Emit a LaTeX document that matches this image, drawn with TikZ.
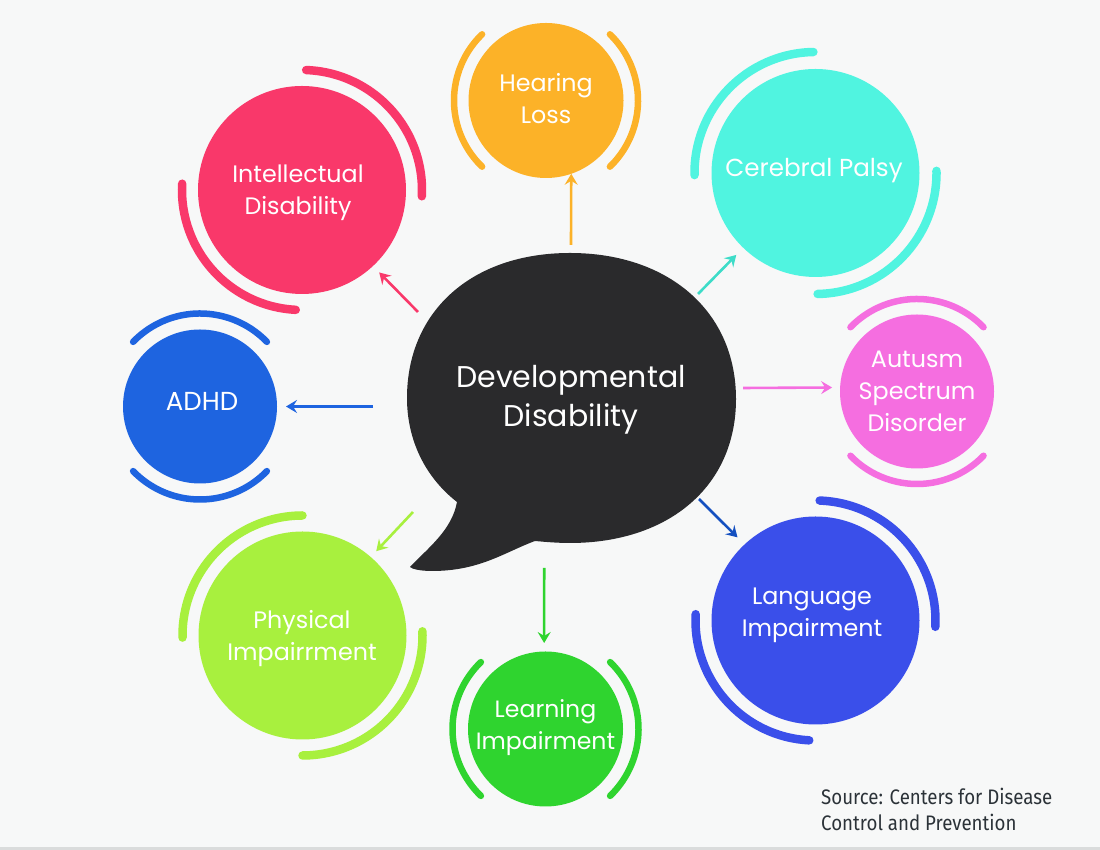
\documentclass[tikz,border=0pt]{standalone}
\usepackage{fontspec}
\usetikzlibrary{arrows.meta}
\newfontfamily\quick{Poppins}
\newfontfamily\srcfont{Fira Sans}[FakeStretch=0.89]
\definecolor{bgc}{HTML}{F7F8F8}
\definecolor{strip}{HTML}{DADCDC}
\definecolor{blobc}{HTML}{2A2A2C}
\definecolor{intelc}{HTML}{F9386A}
\definecolor{hearc}{HTML}{FCB228}
\definecolor{cerc}{HTML}{50F4E0}
\definecolor{cerarrow}{HTML}{3DDCC8}
\definecolor{autc}{HTML}{F56EE0}
\definecolor{langc}{HTML}{3A4FEA}
\definecolor{langarrow}{HTML}{1450C0}
\definecolor{learnc}{HTML}{2FD42F}
\definecolor{physc}{HTML}{A8F03E}
\definecolor{adhdc}{HTML}{1E64E0}
\definecolor{srcc}{HTML}{2B3238}
\tikzset{
  bub/.style={circle,inner sep=0pt,outer sep=0pt},
  bigbub/.style={bub,minimum size=208pt},
  smallbub/.style={bub,minimum size=155pt},
  bigring/.style={line width=8.5pt,line cap=round},
  smallring/.style={line width=6.5pt,line cap=round},
  link/.style={line width=2.6pt,-{Stealth[length=11pt,width=13pt,inset=4pt]}},
  lab/.style={text=white,align=center,anchor=base,inner sep=0pt,font=\quick\fontsize{23.8}{32}\selectfont},
  devlab/.style={text=white,align=center,anchor=base,inner sep=0pt,font=\quick\fontsize{30}{39}\selectfont},
  srclab/.style={text=srcc,align=left,anchor=base west,inner sep=0pt,font=\srcfont\fontsize{21}{26}\selectfont},
}
\newcommand{\ringarc}[6]{\draw[#1,#2] (#3) ++(#5:#4) arc[start angle=#5,end angle=#6,radius=#4];}
\begin{document}
\begin{tikzpicture}[x=1pt,y=1pt]
\useasboundingbox (0,0) rectangle (1100,850);
\fill[bgc] (0,0) rectangle (1100,850);
\fill[strip] (0,0) rectangle (1100,2.5);

% circles
\node[bigbub,fill=intelc] (intel) at (302,660) {};
\node[smallbub,fill=hearc] (hear) at (546,749.5) {};
\node[bigbub,fill=cerc] (cer) at (815.5,677) {};
\node[smallbub,fill=autc,minimum size=154pt] (aut) at (917,458.5) {};
\node[bigbub,fill=langc] (lang) at (815.5,229.5) {};
\node[smallbub,fill=learnc] (learn) at (545.5,121) {};
\node[bigbub,fill=physc] (phys) at (302.5,214.5) {};
\node[smallbub,fill=adhdc,minimum size=154pt] (adhd) at (200,443.5) {};

% rings
\ringarc{bigring}{intelc}{intel}{120}{88}{-3}
\ringarc{bigring}{intelc}{intel}{120}{177}{267}
\ringarc{smallring}{hearc}{hear}{92}{134}{226}
\ringarc{smallring}{hearc}{hear}{92}{46}{-46}
\ringarc{bigring}{cerc}{cer}{121}{91}{181}
\ringarc{bigring}{cerc}{cer}{121}{1}{-89}
\ringarc{smallring}{autc}{aut}{92.5}{44}{136}
\ringarc{smallring}{autc}{aut}{92.5}{-44}{-136}
\ringarc{bigring}{langc}{lang}{120}{88}{-3}
\ringarc{bigring}{langc}{lang}{120}{177}{267}
\ringarc{smallring}{learnc}{learn}{93}{134}{226}
\ringarc{smallring}{learnc}{learn}{93}{46}{-46}
\ringarc{bigring}{physc}{phys}{120}{90}{181}
\ringarc{bigring}{physc}{phys}{120}{2}{-90}
\ringarc{smallring}{adhdc}{adhd}{93}{44}{136}
\ringarc{smallring}{adhdc}{adhd}{93}{-44}{-136}

% speech bubble
\begin{scope}[shift={(0,850)},yscale=-1]
\fill[blobc] (407,398)
  .. controls (407,311) and (472,253) .. (570,253)
  .. controls (668,253) and (736,311) .. (736,399)
  .. controls (736,487) and (668,543) .. (570,543)
  .. controls (558,543) and (546,542) .. (535,541)
  .. controls (505,552) and (480,571) .. (432,571)
  .. controls (420,571) and (412,569) .. (410,567)
  .. controls (428,548) and (452,530) .. (457,502)
  .. controls (425,477) and (407,440) .. (407,398) -- cycle;
\end{scope}
\node[devlab] (dev) at (571,423) {Developmental\\Disability};

% arrow start points
\coordinate (hearS) at (571,605);
\coordinate (cerS) at (698,556);
\coordinate (autS) at (743,462);
\coordinate (langS) at (699,351);
\coordinate (learnS) at (544.2,282);
\coordinate (physS) at (413,338);
\coordinate (adhdS) at (373,443.5);
\coordinate (intelS) at (418,538);

% arrows
\draw[link,hearc] (hearS) -- (hear.-71);
\draw[link,cerarrow,shorten >=10pt] (cerS) -- (cer.226.6);
\draw[link,autc,shorten >=8pt] (autS) -- (aut.177.4);
\draw[link,langarrow,shorten >=10pt] (langS) -- (lang.133.6);
\draw[link,learnc,shorten >=8.5pt] (learnS) -- (learn.91);
\draw[link,physc,shorten >=8pt] (physS) -- (phys.49.7);
\draw[link,adhdc,shorten >=9pt] (adhdS) -- (adhd.0);
\draw[link,intelc,shorten >=9pt] (intelS) -- (intel.-47);

% labels
\node[lab] (intelT) at (298,635) {Intellectual\\Disability};
\node[lab] (hearT) at (546,726) {Hearing\\Loss};
\node[lab,font=\quick\fontsize{24.6}{32}\selectfont] (cerT) at (814,673) {Cerebral Palsy};
\node[lab] (autT) at (917,418) {Autusm\\Spectrum\\Disorder};
\node[lab,font=\quick\fontsize{26}{32}\selectfont] (adhdT) at (202,439) {ADHD};
\node[lab] (langT) at (812,213) {Language\\Impairment};
\node[lab] (physT) at (302,189) {Physical\\Impairrment};
\node[lab,font=\quick\fontsize{23.6}{32}\selectfont] (learnT) at (545.5,100) {Learning\\Impairment};
\node[srclab] (src) at (821,19) {Source: Centers for Disease\\Control and Prevention};
\end{tikzpicture}
\end{document}
